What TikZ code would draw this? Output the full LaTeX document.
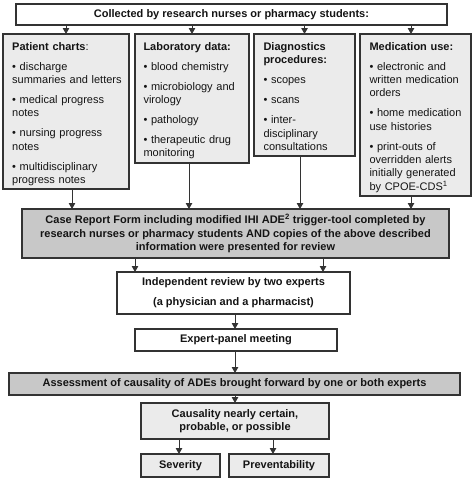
\documentclass[tikz,border=0pt]{standalone}
\usepackage{fontspec}
\setmainfont{Liberation Sans}
\usetikzlibrary{arrows.meta,calc}
\definecolor{edge}{HTML}{333333}
\definecolor{lightfill}{HTML}{EBEBEB}
\definecolor{darkfill}{HTML}{C8C8C8}
\definecolor{ink}{HTML}{141414}
\tikzset{
  box/.style={draw=edge, line width=1.2pt, inner sep=0pt, outer sep=0pt, anchor=north west,
    text=ink, align=center, font=\fontsize{11}{13.33}\selectfont\bfseries},
  lightbox/.style={box, fill=lightfill},
  darkbox/.style={box, fill=darkfill},
  whitebox/.style={box, fill=white},
  coltxt/.style={inner sep=0pt, text=ink, font=\fontsize{11}{13.33}\selectfont,
    anchor=base west, align=left, text width=125pt},
  arr/.style={draw=edge, line width=1pt, -{Triangle[width=6.5pt,length=6pt]}},
}
\begin{document}
\begin{tikzpicture}[x=1pt,y=-1pt]
\useasboundingbox[fill=white] (0,0) rectangle (474,479);

% top box
\node[whitebox, minimum width=431pt, minimum height=21pt] (top) at (16,4)
  {Collected by research nurses or pharmacy students:};

% column boxes
\node[lightbox, minimum width=126pt, minimum height=155pt] (pc) at (3,34) {};
\node[lightbox, minimum width=114pt, minimum height=129pt] (lab) at (135,34) {};
\node[lightbox, minimum width=101pt, minimum height=122pt] (dia) at (254,34) {};
\node[lightbox, minimum width=111pt, minimum height=162pt] (med) at (360,34) {};

\node[coltxt] (pct) at (12,50.6) {\textbf{Patient charts}:\\[6.4pt]
  • discharge\\ summaries and letters\\[6.67pt]
  • medical progress\\ notes\\[6.67pt]
  • nursing progress\\ notes\\[6.67pt]
  • multidisciplinary\\ progress notes};
\node[coltxt] (labt) at (143.3,50.6) {\textbf{Laboratory data:}\\[6.4pt]
  • blood chemistry\\[6.67pt]
  • microbiology and\\ virology\\[6.67pt]
  • pathology\\[6.67pt]
  • therapeutic drug\\ monitoring};
\node[coltxt] (diat) at (263.3,50.4) {\textbf{Diagnostics}\\ \textbf{procedures:}\\[6.67pt]
  • scopes\\[6.67pt]
  • scans\\[6.67pt]
  • inter-\\ disciplinary\\ consultations};
\node[coltxt] (medt) at (369.3,50.6) {\textbf{Medication use:}\\[6.4pt]
  • electronic and\\ written medication\\ orders\\[6.67pt]
  • home medication\\ use histories\\[6.67pt]
  • print-outs of\\ overridden alerts\\ initially generated\\ by CPOE-CDS\textsuperscript{1}};

% CRF box
\node[darkbox, minimum width=427pt, minimum height=49pt] (crf) at (22,209)
  {Case Report Form including modified IHI ADE\textsuperscript{2} trigger-tool completed by\\
   research nurses or pharmacy students AND copies of the above described\\
   information were presented for review};

% review
\node[whitebox, minimum width=233pt, minimum height=42pt] (rev) at (117,272)
  {Independent review by two experts\\[6.4pt] (a physician and a pharmacist)};

\node[whitebox, minimum width=202pt, minimum height=22pt] (panel) at (135,329)
  {Expert-panel meeting};

\node[darkbox, minimum width=451pt, minimum height=22pt] (ass) at (9,373)
  {Assessment of causality of ADEs brought forward by one or both experts};

\node[lightbox, minimum width=188pt, minimum height=36pt] (cau) at (141,403)
  {Causality nearly certain,\\ probable, or possible};

\node[lightbox, minimum width=79pt, minimum height=23pt] (sev) at (141,454) {Severity};
\node[lightbox, minimum width=100pt, minimum height=23pt] (prev) at (229,454) {Preventability};

% arrows
\draw[arr] (top.south -| pc.north) -- (pc.north);
\draw[arr] (top.south -| lab.north) -- (lab.north);
\draw[arr] (top.south -| dia.north) -- (dia.north);
\draw[arr] ([xshift=-4.5pt]top.south -| med.north) -- ([xshift=-4.5pt]med.north);

\draw[arr] ([xshift=6pt]pc.south) -- ([xshift=6pt]crf.north -| pc.south);
\draw[arr] ([xshift=-3pt]lab.south) -- ([xshift=-3pt]crf.north -| lab.south);
\draw[arr] ([xshift=-4.5pt]dia.south) -- ([xshift=-4.5pt]crf.north -| dia.south);
\draw[arr] ([xshift=-4.5pt]med.south) -- ([xshift=-4.5pt]crf.north -| med.south);

\draw[arr] (crf.south -| 135,0) -- (rev.north -| 135,0);
\draw[arr] (crf.south -| 323,0) -- (rev.north -| 323,0);
\draw[arr] (rev.south -| 235,0) -- (panel.north -| 235,0);
\draw[arr] (panel.south -| 235,0) -- (ass.north -| 235,0);
\draw[arr] (ass.south -| 235,0) -- (cau.north -| 235,0);
\draw[arr] (cau.south -| 179,0) -- (sev.north -| 179,0);
\draw[arr] (cau.south -| 273,0) -- (prev.north -| 273,0);
\end{tikzpicture}
\end{document}
